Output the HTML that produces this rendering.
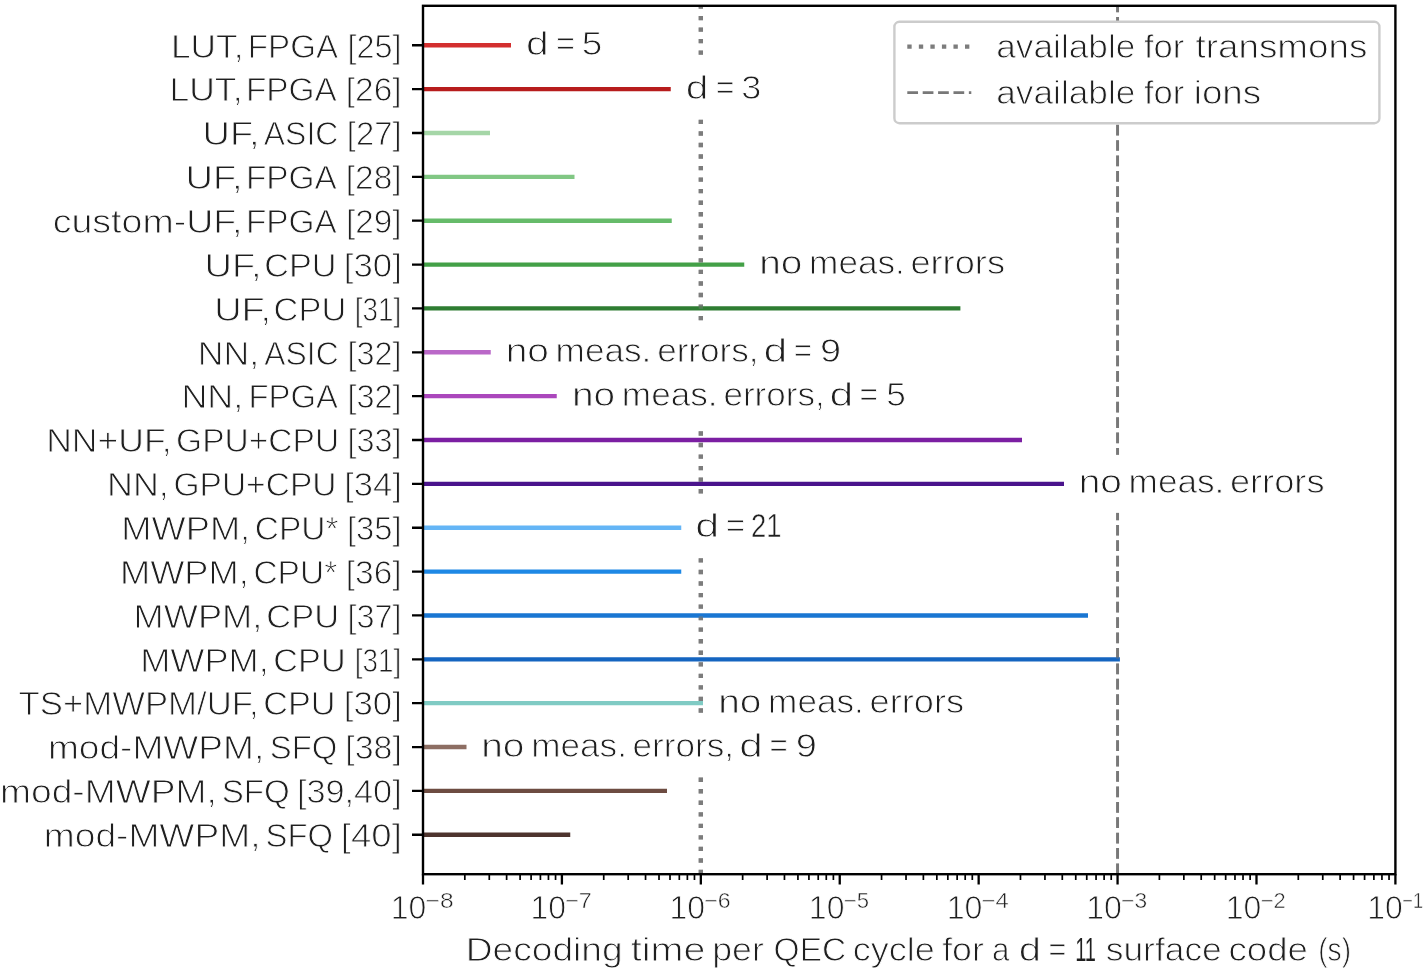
<!DOCTYPE html>
<html lang="en"><head><meta charset="utf-8"><title>Decoding time per QEC cycle</title>
<style>
html,body{margin:0;padding:0;background:#fff;}
body{width:1425px;height:972px;overflow:hidden;}
svg{display:block;}
text{font-family:"Liberation Sans", sans-serif;font-size:33.0px;fill:#1f1f1f;stroke:#fff;stroke-width:0.9px;}
.sup{font-size:22.4px;stroke-width:0.5px;}
.yl{font-size:33.0px;}
.nar{stroke-width:0.1px;}.nar2{stroke-width:0.5px;}
</style></head><body>
<svg width="1425" height="972" viewBox="0 0 1425 972">
<rect x="0" y="0" width="1425" height="972" fill="#ffffff"/>
<g fill="none">
<line x1="700.83" y1="874.20" x2="700.83" y2="5.80" stroke="#7c7c7c" stroke-width="4.35" stroke-dasharray="4.35 7.19"/>
<line x1="1117.57" y1="874.20" x2="1117.57" y2="5.80" stroke="#787878" stroke-width="2.9" stroke-dasharray="10.74 4.65"/>
</g>
<g fill="none" stroke-width="4.35">
<line x1="423.00" y1="45.27" x2="511.00" y2="45.27" stroke="#d32f2f"/>
<line x1="423.00" y1="89.13" x2="670.75" y2="89.13" stroke="#b71c1c"/>
<line x1="423.00" y1="132.99" x2="490.00" y2="132.99" stroke="#a5d6a7"/>
<line x1="423.00" y1="176.85" x2="574.50" y2="176.85" stroke="#81c784"/>
<line x1="423.00" y1="220.71" x2="671.75" y2="220.71" stroke="#66bb6a"/>
<line x1="423.00" y1="264.57" x2="744.25" y2="264.57" stroke="#43a047"/>
<line x1="423.00" y1="308.43" x2="960.40" y2="308.43" stroke="#2e7d32"/>
<line x1="423.00" y1="352.29" x2="490.75" y2="352.29" stroke="#ba68c8"/>
<line x1="423.00" y1="396.15" x2="556.75" y2="396.15" stroke="#ab47bc"/>
<line x1="423.00" y1="440.01" x2="1022.00" y2="440.01" stroke="#7b1fa2"/>
<line x1="423.00" y1="483.87" x2="1064.00" y2="483.87" stroke="#4a148c"/>
<line x1="423.00" y1="527.73" x2="681.25" y2="527.73" stroke="#64b5f6"/>
<line x1="423.00" y1="571.59" x2="681.25" y2="571.59" stroke="#1e88e5"/>
<line x1="423.00" y1="615.45" x2="1088.00" y2="615.45" stroke="#1976d2"/>
<line x1="423.00" y1="659.31" x2="1119.90" y2="659.31" stroke="#1565c0"/>
<line x1="423.00" y1="703.17" x2="703.00" y2="703.17" stroke="#80cbc4"/>
<line x1="423.00" y1="747.03" x2="466.50" y2="747.03" stroke="#8d6e63"/>
<line x1="423.00" y1="790.89" x2="667.00" y2="790.89" stroke="#6d4c41"/>
<line x1="423.00" y1="834.75" x2="570.25" y2="834.75" stroke="#4e342e"/>
</g>
<g fill="none" opacity="0.45">
<line x1="700.83" y1="874.20" x2="700.83" y2="5.80" stroke="#7c7c7c" stroke-width="4.35" stroke-dasharray="4.35 7.19"/>
<line x1="1117.57" y1="874.20" x2="1117.57" y2="5.80" stroke="#787878" stroke-width="2.9" stroke-dasharray="10.74 4.65"/>
</g>
<g fill="#ffffff">
<rect x="514.20" y="16.27" width="100.00" height="58.00"/>
<rect x="674.00" y="60.13" width="99.30" height="58.00"/>
<rect x="748.20" y="235.57" width="269.00" height="58.00"/>
<rect x="494.75" y="323.29" width="358.10" height="58.00"/>
<rect x="561.00" y="367.15" width="357.00" height="58.00"/>
<rect x="1067.70" y="454.87" width="269.00" height="58.00"/>
<rect x="683.80" y="498.73" width="110.20" height="58.00"/>
<rect x="707.25" y="674.17" width="269.00" height="58.00"/>
<rect x="470.30" y="718.03" width="358.10" height="58.00"/>
</g>
<g>
<text y="54.87"><tspan x="526.04" textLength="22.66" lengthAdjust="spacingAndGlyphs">d</tspan> <tspan x="555.97" textLength="19.04" lengthAdjust="spacingAndGlyphs">=</tspan> <tspan x="581.67" textLength="20.59" lengthAdjust="spacingAndGlyphs">5</tspan></text>
<text y="98.73"><tspan x="685.83" textLength="22.68" lengthAdjust="spacingAndGlyphs">d</tspan> <tspan x="715.85" textLength="18.72" lengthAdjust="spacingAndGlyphs">=</tspan> <tspan x="741.35" textLength="20.04" lengthAdjust="spacingAndGlyphs">3</tspan></text>
<text y="274.17"><tspan x="759.15" textLength="43.24" lengthAdjust="spacingAndGlyphs">no</tspan> <tspan x="809.08" textLength="95.80" lengthAdjust="spacingAndGlyphs">meas.</tspan> <tspan x="910.42" textLength="94.62" lengthAdjust="spacingAndGlyphs">errors</tspan></text>
<text y="361.89"><tspan x="505.72" textLength="43.24" lengthAdjust="spacingAndGlyphs">no</tspan> <tspan x="555.62" textLength="95.77" lengthAdjust="spacingAndGlyphs">meas.</tspan> <tspan x="657.21" textLength="101.27" lengthAdjust="spacingAndGlyphs">errors,</tspan> <tspan x="763.44" textLength="23.78" lengthAdjust="spacingAndGlyphs">d</tspan> <tspan x="793.84" textLength="18.35" lengthAdjust="spacingAndGlyphs">=</tspan> <tspan x="820.13" textLength="21.08" lengthAdjust="spacingAndGlyphs">9</tspan></text>
<text y="405.75"><tspan x="571.97" textLength="43.24" lengthAdjust="spacingAndGlyphs">no</tspan> <tspan x="621.87" textLength="95.77" lengthAdjust="spacingAndGlyphs">meas.</tspan> <tspan x="723.46" textLength="101.27" lengthAdjust="spacingAndGlyphs">errors,</tspan> <tspan x="829.53" textLength="23.79" lengthAdjust="spacingAndGlyphs">d</tspan> <tspan x="859.50" textLength="18.59" lengthAdjust="spacingAndGlyphs">=</tspan> <tspan x="886.21" textLength="19.65" lengthAdjust="spacingAndGlyphs">5</tspan></text>
<text y="493.47"><tspan x="1078.65" textLength="43.24" lengthAdjust="spacingAndGlyphs">no</tspan> <tspan x="1128.58" textLength="95.80" lengthAdjust="spacingAndGlyphs">meas.</tspan> <tspan x="1229.92" textLength="94.62" lengthAdjust="spacingAndGlyphs">errors</tspan></text>
<text y="537.33"><tspan x="695.25" textLength="24.01" lengthAdjust="spacingAndGlyphs">d</tspan> <tspan x="725.70" textLength="19.51" lengthAdjust="spacingAndGlyphs">=</tspan> <tspan x="751.10" class="nar2" textLength="30.50" lengthAdjust="spacingAndGlyphs">21</tspan></text>
<text y="712.77"><tspan x="718.22" textLength="43.24" lengthAdjust="spacingAndGlyphs">no</tspan> <tspan x="768.12" textLength="95.77" lengthAdjust="spacingAndGlyphs">meas.</tspan> <tspan x="869.49" textLength="94.62" lengthAdjust="spacingAndGlyphs">errors</tspan></text>
<text y="756.63"><tspan x="481.26" textLength="43.24" lengthAdjust="spacingAndGlyphs">no</tspan> <tspan x="531.16" textLength="95.77" lengthAdjust="spacingAndGlyphs">meas.</tspan> <tspan x="632.54" textLength="101.50" lengthAdjust="spacingAndGlyphs">errors,</tspan> <tspan x="739.24" textLength="23.50" lengthAdjust="spacingAndGlyphs">d</tspan> <tspan x="769.38" textLength="18.34" lengthAdjust="spacingAndGlyphs">=</tspan> <tspan x="795.67" textLength="21.10" lengthAdjust="spacingAndGlyphs">9</tspan></text>
</g>
<rect x="894.4" y="21.8" width="485.0" height="101.4" rx="5" ry="5" fill="#ffffff" stroke="#cccccc" stroke-width="2.4"/>
<line x1="907.3" y1="46.6" x2="971.3" y2="46.6" stroke="#7c7c7c" stroke-width="4.35" stroke-dasharray="4.35 7.19"/>
<line x1="907.3" y1="92.6" x2="971.3" y2="92.6" stroke="#787878" stroke-width="2.9" stroke-dasharray="10.74 4.65"/>
<text y="58.00"><tspan x="996.26" textLength="139.10" lengthAdjust="spacingAndGlyphs">available</tspan> <tspan x="1143.96" textLength="40.46" lengthAdjust="spacingAndGlyphs">for</tspan> <tspan x="1195.59" textLength="171.69" lengthAdjust="spacingAndGlyphs">transmons</tspan></text>
<text y="103.70"><tspan x="996.26" textLength="139.10" lengthAdjust="spacingAndGlyphs">available</tspan> <tspan x="1143.96" textLength="40.46" lengthAdjust="spacingAndGlyphs">for</tspan> <tspan x="1193.72" textLength="67.55" lengthAdjust="spacingAndGlyphs">ions</tspan></text>
<g stroke="#000000" fill="none">
<rect x="423.00" y="5.80" width="972.40" height="868.40" stroke-width="2.4"/>
<path d="M423.00 45.27H412.00M423.00 89.13H412.00M423.00 132.99H412.00M423.00 176.85H412.00M423.00 220.71H412.00M423.00 264.57H412.00M423.00 308.43H412.00M423.00 352.29H412.00M423.00 396.15H412.00M423.00 440.01H412.00M423.00 483.87H412.00M423.00 527.73H412.00M423.00 571.59H412.00M423.00 615.45H412.00M423.00 659.31H412.00M423.00 703.17H412.00M423.00 747.03H412.00M423.00 790.89H412.00M423.00 834.75H412.00M423.00 874.20V884.60M561.91 874.20V884.60M700.83 874.20V884.60M839.74 874.20V884.60M978.66 874.20V884.60M1117.57 874.20V884.60M1256.49 874.20V884.60M1395.40 874.20V884.60" stroke-width="2.3"/>
<path d="M464.82 874.20V880.00M489.28 874.20V880.00M506.63 874.20V880.00M520.10 874.20V880.00M531.10 874.20V880.00M540.40 874.20V880.00M548.45 874.20V880.00M555.56 874.20V880.00M603.73 874.20V880.00M628.19 874.20V880.00M645.55 874.20V880.00M659.01 874.20V880.00M670.01 874.20V880.00M679.31 874.20V880.00M687.37 874.20V880.00M694.47 874.20V880.00M742.65 874.20V880.00M767.11 874.20V880.00M784.46 874.20V880.00M797.93 874.20V880.00M808.92 874.20V880.00M818.22 874.20V880.00M826.28 874.20V880.00M833.39 874.20V880.00M881.56 874.20V880.00M906.02 874.20V880.00M923.38 874.20V880.00M936.84 874.20V880.00M947.84 874.20V880.00M957.14 874.20V880.00M965.19 874.20V880.00M972.30 874.20V880.00M1020.47 874.20V880.00M1044.94 874.20V880.00M1062.29 874.20V880.00M1075.75 874.20V880.00M1086.75 874.20V880.00M1096.05 874.20V880.00M1104.11 874.20V880.00M1111.22 874.20V880.00M1159.39 874.20V880.00M1183.85 874.20V880.00M1201.21 874.20V880.00M1214.67 874.20V880.00M1225.67 874.20V880.00M1234.97 874.20V880.00M1243.02 874.20V880.00M1250.13 874.20V880.00M1298.30 874.20V880.00M1322.76 874.20V880.00M1340.12 874.20V880.00M1353.58 874.20V880.00M1364.58 874.20V880.00M1373.88 874.20V880.00M1381.94 874.20V880.00M1389.04 874.20V880.00" stroke-width="1.7"/>
</g>
<g>
<text class="yl" y="57.57"><tspan x="170.94" textLength="72.66" lengthAdjust="spacingAndGlyphs">LUT,</tspan> <tspan x="247.78" textLength="88.45" lengthAdjust="spacingAndGlyphs">FPGA</tspan> <tspan x="347.54" textLength="53.99" lengthAdjust="spacingAndGlyphs">[25]</tspan></text>
<text class="yl" y="101.43"><tspan x="169.47" textLength="73.04" lengthAdjust="spacingAndGlyphs">LUT,</tspan> <tspan x="245.93" textLength="89.03" lengthAdjust="spacingAndGlyphs">FPGA</tspan> <tspan x="345.79" textLength="55.82" lengthAdjust="spacingAndGlyphs">[26]</tspan></text>
<text class="yl" y="145.29"><tspan x="202.62" textLength="56.84" lengthAdjust="spacingAndGlyphs">UF,</tspan> <tspan x="263.84" textLength="74.52" lengthAdjust="spacingAndGlyphs">ASIC</tspan> <tspan x="346.81" textLength="54.78" lengthAdjust="spacingAndGlyphs">[27]</tspan></text>
<text class="yl" y="189.15"><tspan x="185.57" textLength="56.98" lengthAdjust="spacingAndGlyphs">UF,</tspan> <tspan x="245.93" textLength="89.03" lengthAdjust="spacingAndGlyphs">FPGA</tspan> <tspan x="345.79" textLength="55.82" lengthAdjust="spacingAndGlyphs">[28]</tspan></text>
<text class="yl" y="233.01"><tspan x="52.65" textLength="189.91" lengthAdjust="spacingAndGlyphs">custom-UF,</tspan> <tspan x="245.93" textLength="89.03" lengthAdjust="spacingAndGlyphs">FPGA</tspan> <tspan x="346.03" textLength="55.58" lengthAdjust="spacingAndGlyphs">[29]</tspan></text>
<text class="yl" y="276.87"><tspan x="204.57" textLength="56.93" lengthAdjust="spacingAndGlyphs">UF,</tspan> <tspan x="264.27" textLength="72.33" lengthAdjust="spacingAndGlyphs">CPU</tspan> <tspan x="343.86" textLength="57.94" lengthAdjust="spacingAndGlyphs">[30]</tspan></text>
<text class="yl" y="320.73"><tspan x="214.18" textLength="56.92" lengthAdjust="spacingAndGlyphs">UF,</tspan> <tspan x="273.62" textLength="72.62" lengthAdjust="spacingAndGlyphs">CPU</tspan> <tspan x="354.84" textLength="46.43" lengthAdjust="spacingAndGlyphs">[31]</tspan></text>
<text class="yl" y="364.59"><tspan x="197.80" textLength="61.43" lengthAdjust="spacingAndGlyphs">NN,</tspan> <tspan x="264.34" textLength="74.30" lengthAdjust="spacingAndGlyphs">ASIC</tspan> <tspan x="347.54" textLength="53.99" lengthAdjust="spacingAndGlyphs">[32]</tspan></text>
<text class="yl" y="408.45"><tspan x="181.40" textLength="61.82" lengthAdjust="spacingAndGlyphs">NN,</tspan> <tspan x="248.49" textLength="87.76" lengthAdjust="spacingAndGlyphs">FPGA</tspan> <tspan x="347.54" textLength="53.99" lengthAdjust="spacingAndGlyphs">[32]</tspan></text>
<text class="yl" y="452.31"><tspan x="46.19" textLength="125.46" lengthAdjust="spacingAndGlyphs">NN+UF,</tspan> <tspan x="176.05" textLength="163.09" lengthAdjust="spacingAndGlyphs">GPU+CPU</tspan> <tspan x="347.54" textLength="53.99" lengthAdjust="spacingAndGlyphs">[33]</tspan></text>
<text class="yl" y="496.17"><tspan x="107.06" textLength="61.79" lengthAdjust="spacingAndGlyphs">NN,</tspan> <tspan x="173.44" textLength="163.04" lengthAdjust="spacingAndGlyphs">GPU+CPU</tspan> <tspan x="344.18" textLength="57.63" lengthAdjust="spacingAndGlyphs">[34]</tspan></text>
<text class="yl" y="540.03"><tspan x="121.38" textLength="128.75" lengthAdjust="spacingAndGlyphs">MWPM,</tspan> <tspan x="254.70" textLength="83.85" lengthAdjust="spacingAndGlyphs">CPU*</tspan> <tspan x="347.05" textLength="54.48" lengthAdjust="spacingAndGlyphs">[35]</tspan></text>
<text class="yl" y="583.89"><tspan x="119.96" textLength="128.84" lengthAdjust="spacingAndGlyphs">MWPM,</tspan> <tspan x="253.42" textLength="83.86" lengthAdjust="spacingAndGlyphs">CPU*</tspan> <tspan x="345.79" textLength="55.82" lengthAdjust="spacingAndGlyphs">[36]</tspan></text>
<text class="yl" y="627.75"><tspan x="133.58" textLength="128.75" lengthAdjust="spacingAndGlyphs">MWPM,</tspan> <tspan x="266.36" textLength="72.85" lengthAdjust="spacingAndGlyphs">CPU</tspan> <tspan x="347.54" textLength="53.99" lengthAdjust="spacingAndGlyphs">[37]</tspan></text>
<text class="yl" y="671.61"><tspan x="140.19" textLength="128.64" lengthAdjust="spacingAndGlyphs">MWPM,</tspan> <tspan x="273.37" textLength="72.33" lengthAdjust="spacingAndGlyphs">CPU</tspan> <tspan x="354.84" textLength="46.43" lengthAdjust="spacingAndGlyphs">[31]</tspan></text>
<text class="yl" y="715.47"><tspan x="18.64" textLength="240.15" lengthAdjust="spacingAndGlyphs">TS+MWPM/UF,</tspan> <tspan x="263.16" textLength="72.35" lengthAdjust="spacingAndGlyphs">CPU</tspan> <tspan x="343.79" textLength="58.04" lengthAdjust="spacingAndGlyphs">[30]</tspan></text>
<text class="yl" y="759.33"><tspan x="47.92" textLength="216.39" lengthAdjust="spacingAndGlyphs">mod-MWPM,</tspan> <tspan x="269.80" textLength="67.51" lengthAdjust="spacingAndGlyphs">SFQ</tspan> <tspan x="345.32" textLength="56.48" lengthAdjust="spacingAndGlyphs">[38]</tspan></text>
<text class="yl" y="803.19"><tspan x="0.12" textLength="216.69" lengthAdjust="spacingAndGlyphs">mod-MWPM,</tspan> <tspan x="221.65" textLength="68.13" lengthAdjust="spacingAndGlyphs">SFQ</tspan> <tspan x="296.92" textLength="104.80" lengthAdjust="spacingAndGlyphs">[39,40]</tspan></text>
<text class="yl" y="847.05"><tspan x="43.81" textLength="216.69" lengthAdjust="spacingAndGlyphs">mod-MWPM,</tspan> <tspan x="265.51" textLength="67.49" lengthAdjust="spacingAndGlyphs">SFQ</tspan> <tspan x="340.77" textLength="61.03" lengthAdjust="spacingAndGlyphs">[40]</tspan></text>
</g>
<g>
<text y="919.00"><tspan x="390.83" textLength="35.57" lengthAdjust="spacingAndGlyphs">10</tspan> <tspan x="425.64" y="908.10" class="sup" textLength="27.94" lengthAdjust="spacingAndGlyphs">−8</tspan></text>
<text y="919.00"><tspan x="530.42" textLength="35.54" lengthAdjust="spacingAndGlyphs">10</tspan> <tspan x="565.23" y="908.10" class="sup" textLength="26.63" lengthAdjust="spacingAndGlyphs">−7</tspan></text>
<text y="919.00"><tspan x="669.39" textLength="35.62" lengthAdjust="spacingAndGlyphs">10</tspan> <tspan x="704.29" y="908.10" class="sup" textLength="26.33" lengthAdjust="spacingAndGlyphs">−6</tspan></text>
<text y="919.00"><tspan x="808.86" textLength="35.61" lengthAdjust="spacingAndGlyphs">10</tspan> <tspan x="843.86" y="908.10" class="sup" textLength="25.17" lengthAdjust="spacingAndGlyphs">−5</tspan></text>
<text y="919.00"><tspan x="946.69" textLength="35.84" lengthAdjust="spacingAndGlyphs">10</tspan> <tspan x="981.54" y="908.10" class="sup" textLength="27.14" lengthAdjust="spacingAndGlyphs">−4</tspan></text>
<text y="919.00"><tspan x="1086.14" textLength="35.87" lengthAdjust="spacingAndGlyphs">10</tspan> <tspan x="1121.11" y="908.10" class="sup" textLength="26.04" lengthAdjust="spacingAndGlyphs">−3</tspan></text>
<text y="919.00"><tspan x="1225.80" textLength="35.59" lengthAdjust="spacingAndGlyphs">10</tspan> <tspan x="1260.67" y="908.10" class="sup" textLength="24.91" lengthAdjust="spacingAndGlyphs">−2</tspan></text>
<text y="919.00"><tspan x="1367.17" textLength="35.59" lengthAdjust="spacingAndGlyphs">10</tspan> <tspan x="1402.32" y="908.10" class="sup" textLength="20.66" lengthAdjust="spacingAndGlyphs">−1</tspan></text>
</g>
<text y="961.20"><tspan x="465.66" textLength="156.98" lengthAdjust="spacingAndGlyphs">Decoding</tspan> <tspan x="630.74" textLength="74.65" lengthAdjust="spacingAndGlyphs">time</tspan> <tspan x="712.27" textLength="51.52" lengthAdjust="spacingAndGlyphs">per</tspan> <tspan x="773.61" textLength="72.62" lengthAdjust="spacingAndGlyphs">QEC</tspan> <tspan x="852.65" textLength="82.11" lengthAdjust="spacingAndGlyphs">cycle</tspan> <tspan x="942.15" textLength="41.70" lengthAdjust="spacingAndGlyphs">for</tspan> <tspan x="991.99" textLength="17.45" lengthAdjust="spacingAndGlyphs">a</tspan> <tspan x="1018.81" textLength="22.29" lengthAdjust="spacingAndGlyphs">d</tspan> <tspan x="1048.57" textLength="17.87" lengthAdjust="spacingAndGlyphs">=</tspan> <tspan x="1075.13" class="nar" textLength="20.92" lengthAdjust="spacingAndGlyphs">11</tspan> <tspan x="1105.76" textLength="116.02" lengthAdjust="spacingAndGlyphs">surface</tspan> <tspan x="1228.44" textLength="79.44" lengthAdjust="spacingAndGlyphs">code</tspan> <tspan x="1318.17" textLength="32.86" lengthAdjust="spacingAndGlyphs">(s)</tspan></text>
</svg></body></html>
